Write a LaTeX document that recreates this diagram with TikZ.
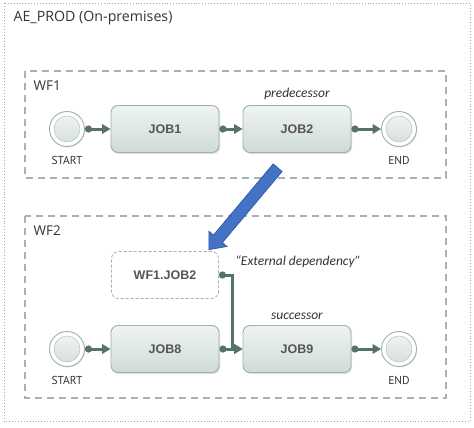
\documentclass[tikz,border=0pt]{standalone}
\usepackage{fontspec}
\setmainfont{Open Sans}
\newfontfamily\jobf{Liberation Sans}
\newfontfamily\lblf{PT Sans}
\newfontfamily\itf{Carlito}
\usetikzlibrary{arrows.meta,shapes.arrows,shadows,calc}
\definecolor{frame}{HTML}{A3ABAB}
\definecolor{wfline}{HTML}{A9B1B1}
\definecolor{conn}{HTML}{557369}
\definecolor{nodeln}{HTML}{A2AFAC}
\definecolor{ntop}{HTML}{EEF4F3}
\definecolor{nbot}{HTML}{CFDBD8}
\definecolor{txt}{HTML}{333333}
\definecolor{jobtxt}{HTML}{555555}
\definecolor{bluef}{HTML}{4472C4}
\definecolor{blued}{HTML}{2F55A4}
\tikzset{
  jobbox/.style={draw=nodeln, line width=0.9pt, rounded corners=7pt, top color=ntop, bottom color=nbot,
    minimum width=108pt, minimum height=47pt, inner sep=0pt,
    font=\jobf\bfseries\fontsize{12.5}{14}\selectfont, text=jobtxt,
    drop shadow={opacity=0.25, shadow xshift=1pt, shadow yshift=-1.5pt}},
  extbox/.style={draw=nodeln, dashed, dash pattern=on 3pt off 2pt, line width=0.8pt, rounded corners=7pt, fill=white,
    minimum width=107pt, minimum height=47pt, inner sep=0pt,
    font=\jobf\bfseries\fontsize{12.5}{14}\selectfont, text=jobtxt},
  outerc/.style={circle, draw=nodeln, line width=0.9pt, fill=white, minimum size=35pt, inner sep=0pt,
    drop shadow={opacity=0.2, shadow xshift=0.8pt, shadow yshift=-1pt}},
  innerc/.style={circle, draw=nodeln!80, line width=0.5pt, top color=ntop, bottom color=nbot!85, minimum size=26pt, inner sep=0pt},
  lbl/.style={font=\lblf\fontsize{11.5}{13}\selectfont, text=txt},
  itl/.style={font=\itf\itshape\fontsize{13.5}{15}\selectfont, text=txt},
  wftitle/.style={font=\fontsize{13.5}{15}\selectfont, text=txt, anchor=west},
  connline/.style={draw=conn, line width=3pt, {Circle[length=7pt]}-{Triangle[length=8.5pt,width=9.5pt]}},
  wfbox/.style={draw=wfline, line width=1.2pt, dash pattern=on 7pt off 5pt},
}
\begin{document}
\begin{tikzpicture}[x=1pt,y=-1pt]
\useasboundingbox (0,0) rectangle (474,428);
% outer frame
\draw[frame, line width=0.9pt, dotted] (4,3) rectangle (470,421);
\node[wftitle, font=\fontsize{14.2}{16}\selectfont] (title) at (10,18) {AE\_PROD (On-premises)};
% WF1
\draw[wfbox] (25,71) rectangle (446,178);
\node[wftitle] (wf1) at (30,86) {WF1};
\node[outerc] (s1) at (67,129) {};
\node[innerc] (s1i) at (s1) {};
\node[lbl] (s1l) at (67,160) {START};
\node[jobbox] (j1) at (165,129) {JOB1};
\node[jobbox] (j2) at (297,129) {JOB2};
\node[itl] (pred) at (297,94) {predecessor};
\node[outerc] (e1) at (399,129) {};
\node[innerc] (e1i) at (e1) {};
\node[lbl] (e1l) at (399,160) {END};
\draw[connline] (s1) -- (j1);
\draw[connline] (j1) -- (j2);
\draw[connline] (j2) -- (e1);
% WF2
\draw[wfbox] (25,216) rectangle (446,398);
\node[wftitle] (wf2) at (30,231) {WF2};
\node[extbox] (ext) at (165,275) {WF1.JOB2};
\node[itl] (extl) at (298,262) {“External dependency”};
\node[outerc] (s2) at (67,349) {};
\node[innerc] (s2i) at (s2) {};
\node[lbl] (s2l) at (67,380) {START};
\node[jobbox] (j8) at (165,349) {JOB8};
\node[jobbox] (j9) at (297,349) {JOB9};
\node[itl] (succ) at (297,316) {successor};
\node[outerc] (e2) at (399,349) {};
\node[innerc] (e2i) at (e2) {};
\node[lbl] (e2l) at (399,380) {END};
\coordinate (jn) at (232,349);
\draw[connline] (s2) -- (j8);
\draw[connline] (ext.east) -| (jn) -- (j9.west);
\draw[connline] (j8) -- (j9);
\draw[connline] (j9) -- (e2);
% blue arrow
\coordinate (bt) at (280,165);
\coordinate (bh) at (211,247);
\node[single arrow, draw=blued, line width=0.7pt, fill=bluef, inner sep=5.5pt, minimum height=107pt,
  single arrow head extend=6pt, single arrow tip angle=80, rotate=230] (blue) at ($(bt)!0.5!(bh)$) {};
\end{tikzpicture}
\end{document}
